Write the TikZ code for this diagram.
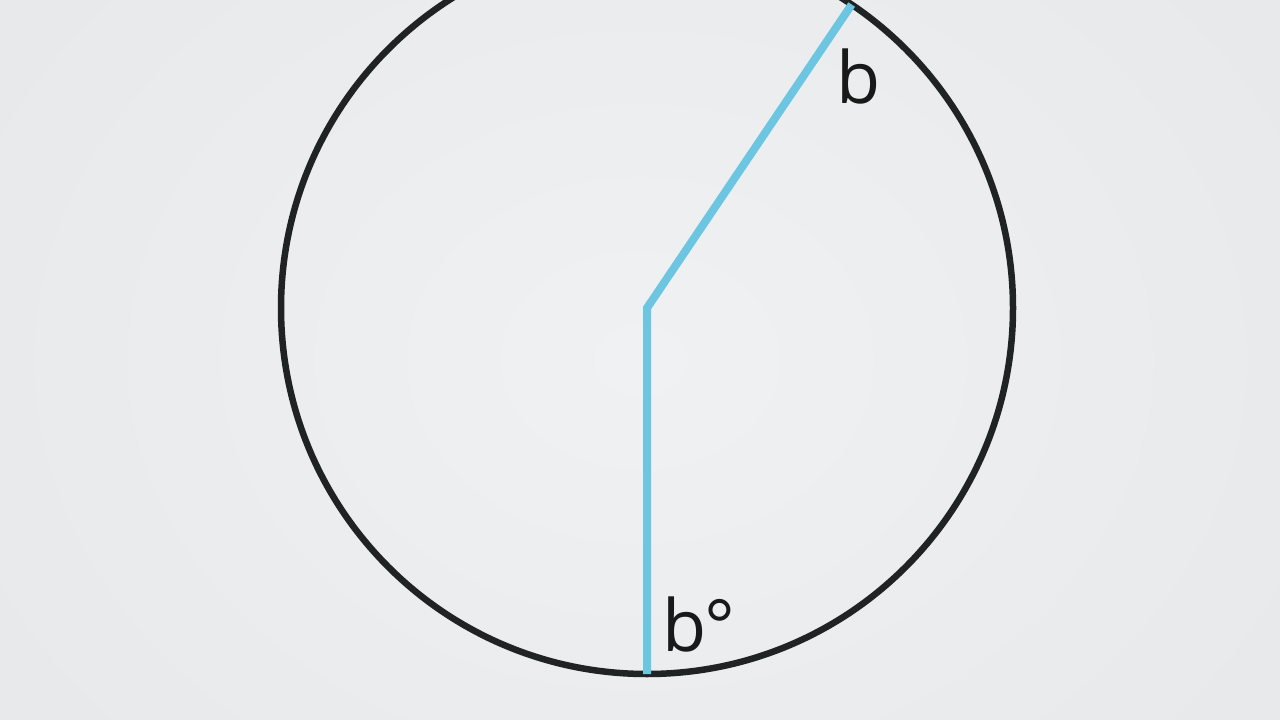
\documentclass[tikz,border=0pt]{standalone}
\usepackage{fontspec}
\setmainfont{Open Sans}
\definecolor{bgc}{HTML}{F0F1F2}
\definecolor{bgedge}{HTML}{E7E8E9}
\definecolor{ringc}{HTML}{1F2323}
\definecolor{radc}{HTML}{6CC6E2}
\tikzset{
  ring/.style={circle, draw=ringc, line width=6.5pt, inner sep=0pt, outer sep=0pt, minimum size=732pt},
  radius line/.style={draw=radc, line width=8pt, line join=miter},
  lbl/.style={inner sep=0pt, outer sep=0pt, anchor=base west, text=black!90, font=\fontsize{72}{80}\selectfont}
}
\begin{document}
\begin{tikzpicture}[x=1pt,y=-1pt]
\useasboundingbox (0,0) rectangle (1280,720);
\fill[bgedge] (0,0) rectangle (1280,720);
\shade[inner color=bgc, outer color=bgedge] (-200,-300) rectangle (1480,1020);
\clip (0,0) rectangle (1280,720);
\node[ring] (c) at (647,308) {};
\draw[radius line] (c.south) -- (c.center) -- (c.56.3);
\node[lbl] (lb1) at (836,103) {b};
\node[lbl] (lb2) at (662,651) {b\kern-2pt°};
\end{tikzpicture}
\end{document}
